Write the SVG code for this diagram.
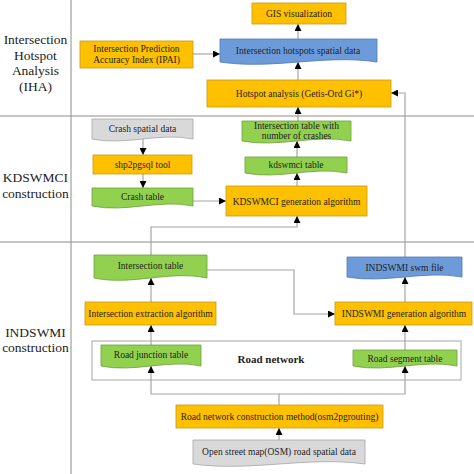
<svg xmlns="http://www.w3.org/2000/svg" width="474" height="474" viewBox="0 0 474 474">
<style>
text{font-family:"Liberation Serif","Times New Roman",serif;fill:#1e1e1e;text-anchor:middle}
.t{font-size:9.5px}
.lab{font-size:13.5px;fill:#222}
.or{fill:#FFC000;stroke:#C59A1A;stroke-width:0.8}
.gr{fill:#92D050;stroke:#6E9E3E;stroke-width:0.8}
.bl{fill:#6D9BDA;stroke:#4E78B4;stroke-width:0.8}
.gy{fill:#D9D9D9;stroke:#A6A6A6;stroke-width:0.8}
.div{stroke:#8C8C8C;stroke-width:1;fill:none}
.c{stroke:#A6A6A6;stroke-width:1.2;fill:none}
.a{marker-end:url(#ah)}
</style>
<defs>
<marker id="ah" viewBox="0 0 10 10" refX="10" refY="5" markerWidth="7" markerHeight="7" markerUnits="userSpaceOnUse" orient="auto">
<path d="M0,0 L10,5 L0,10 z" fill="#000"/>
</marker>
</defs>
<rect width="474" height="474" fill="#fff"/>
<g id="dividers">
<path class="div" d="M71,0 V474 M0,116 H474 M0,242 H474"/>
</g>
<g id="section-labels">
<text class="lab" x="35.5" y="44">Intersection</text>
<text class="lab" x="35.5" y="60">Hotspot</text>
<text class="lab" x="35.5" y="75">Analysis</text>
<text class="lab" x="35.5" y="91">(IHA)</text>
<text class="lab" x="35.5" y="182">KDSWMCI</text>
<text class="lab" x="35.5" y="198">construction</text>
<text class="lab" x="35.5" y="337">INDSWMI</text>
<text class="lab" x="35.5" y="352">construction</text>
</g>
<g id="road-network">
<rect x="92" y="341" width="369" height="39" fill="#fff" stroke="#A6A6A6" stroke-width="1"/>
<text x="271" y="363" style="font-size:11px;font-weight:bold">Road network</text>
</g>
<g id="connectors">
<path class="c a" d="M193,54 H220"/>
<path class="c a" d="M298,39 V24"/>
<path class="c a" d="M298,80 V62"/>
<path class="c a" d="M298,121 V107"/>
<path class="c a" d="M405,257 V93 H391"/>
<path class="c a" d="M143,139 V155"/>
<path class="c a" d="M143,174 V188"/>
<path class="c a" d="M193,201 H226"/>
<path class="c a" d="M297,186 V173"/>
<path class="c a" d="M297,157 V141"/>
<path class="c a" d="M151,255 V227 H297 V216"/>
<path class="c a" d="M151,302 V278"/>
<path class="c a" d="M151,345 V325"/>
<path class="c a" d="M279,405 V394 H151 V366"/>
<path class="c a" d="M279,394 H405 V366"/>
<path class="c a" d="M279,440 V428"/>
<path class="c a" d="M207,270 H294 V314 H335"/>
<path class="c a" d="M405,350 V325"/>
<path class="c a" d="M405,302 V277"/>
</g>
<g id="gis">
<rect class="or" x="252" y="3" width="94" height="21"/>
<text class="t" x="299" y="17">GIS visualization</text>
</g>
<g id="ipai">
<rect class="or" x="80" y="41" width="113" height="27"/>
<text class="t" x="136.5" y="52">Intersection Prediction</text>
<text class="t" x="136.5" y="63">Accuracy Index (IPAI)</text>
</g>
<g id="hotspots-data">
<path class="bl" d="M220,39 H377 V62 C324,54 273,70 220,62 Z"/>
<text class="t" x="298" y="54">Intersection  hotspots spatial data</text>
</g>
<g id="hotspot-analysis">
<rect class="or" x="207" y="80" width="184" height="27"/>
<text class="t" x="299" y="97">Hotspot analysis (Getis-Ord Gi*)</text>
</g>
<g id="crash-spatial">
<path class="gy" d="M92,119 H193 V139 C159,132 126,146 92,139 Z"/>
<text class="t" x="142.5" y="132">Crash spatial data</text>
</g>
<g id="shp2pgsql">
<rect class="or" x="93" y="155" width="99" height="19"/>
<text class="t" x="142.5" y="167.5">shp2pgsql tool</text>
</g>
<g id="crash-table">
<path class="gr" d="M92,188 H193 V206 C159,199 126,213 92,206 Z"/>
<text class="t" x="142.5" y="200">Crash  table</text>
</g>
<g id="int-crashes">
<path class="gr" d="M242,121 H351 V141 C315,134 278,148 242,141 Z"/>
<text class="t" x="296.5" y="129">Intersection table with</text>
<text class="t" x="296.5" y="139">number of crashes</text>
</g>
<g id="kdswmci-table">
<path class="gr" d="M245,157 H347 V173 C313,166 279,180 245,173 Z"/>
<text class="t" x="296" y="167.5">kdswmci    table</text>
</g>
<g id="kdswmci-alg">
<rect class="or" x="226" y="186" width="141" height="30"/>
<text class="t" x="296.5" y="204.5">KDSWMCI generation algorithm</text>
</g>
<g id="intersection-table">
<path class="gr" d="M94,255 H207 V278 C169,270 132,286 94,278 Z"/>
<text class="t" x="150.5" y="269">Intersection  table</text>
</g>
<g id="extraction">
<rect class="or" x="85" y="302" width="131" height="23"/>
<text class="t" x="150.5" y="317">Intersection extraction algorithm</text>
</g>
<g id="junction-table">
<path class="gr" d="M101,345 H201 V366 C168,359 134,373 101,366 Z"/>
<text class="t" x="151" y="358">Road junction table</text>
</g>
<g id="segment-table">
<path class="gr" d="M353,350 H457 V366 C422,359 388,373 353,366 Z"/>
<text class="t" x="405" y="361.5">Road segment table</text>
</g>
<g id="swm-file">
<path class="bl" d="M347,257 H462 V277 C424,270 385,284 347,277 Z"/>
<text class="t" x="404.5" y="271">INDSWMI swm file</text>
</g>
<g id="indswmi-alg">
<rect class="or" x="335" y="302" width="137" height="23"/>
<text class="t" x="404" y="317">INDSWMI  generation algorithm</text>
</g>
<g id="osm2pgrouting">
<rect class="or" x="176" y="405" width="207" height="23"/>
<text class="t" x="279.5" y="420">Road network construction method(osm2pgrouting)</text>
</g>
<g id="osm-data">
<path class="gy" d="M193,440 H365 V464 C308,456 250,472 193,464 Z"/>
<text class="t" x="279" y="455">Open street map(OSM) road spatial data</text>
</g>
</svg>
